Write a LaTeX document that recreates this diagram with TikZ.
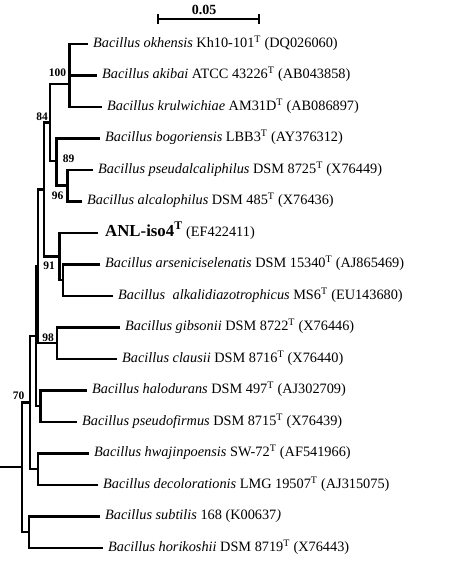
\documentclass[tikz,border=0pt]{standalone}
\usepackage{fontspec}
\setmainfont{Liberation Serif}
\newcommand{\Bac}[1]{\textit{Bacillus #1}}
\newcommand{\Ty}{\textsuperscript{T}}
\begin{document}
\begin{tikzpicture}[x=1pt,y=-1pt,
  br/.style={line width=2.7pt},
  leaf/.style={anchor=west, inner xsep=5pt, inner ysep=0pt, text height=9.5pt, text depth=3pt, font=\fontsize{14.3}{16}\selectfont},
  boot/.style={font=\fontsize{11.5}{13}\selectfont\bfseries, inner sep=0pt}]
\useasboundingbox (0,0) rectangle (474,562);
% scale bar
\coordinate (sb1) at (158,19);
\coordinate (sb2) at (259,19);
\draw[br] (sb1) -- (sb2);
\draw[br] ([yshift=-5pt]sb1) -- ([yshift=5pt]sb1);
\draw[br] ([yshift=-5pt]sb2) -- ([yshift=5pt]sb2);
\node[font=\fontsize{14}{16}\selectfont\bfseries, inner sep=0pt] (sbl) at (204,10) {0.05};
% leaves
\node[leaf] (t1) at (88,44) {\Bac{okhensis} Kh10-101\Ty{} (DQ026060)};
\node[leaf] (t2) at (97,75.5) {\Bac{akibai} ATCC 43226\Ty{} (AB043858)};
\node[leaf] (t3) at (102,107) {\Bac{krulwichiae} AM31D\Ty{} (AB086897)};
\node[leaf] (t4) at (100,138.5) {\Bac{bogoriensis} LBB3\Ty{} (AY376312)};
\node[leaf] (t5) at (93,170) {\Bac{pseudalcaliphilus} DSM 8725\Ty{} (X76449)};
\node[leaf] (t6) at (82,201.5) {\Bac{alcalophilus} DSM 485\Ty{} (X76436)};
\node[leaf, inner xsep=7pt] (t7) at (98,233) {{\fontsize{16.8}{18}\selectfont\bfseries ANL-iso4\Ty} (EF422411)};
\node[leaf] (t8) at (100,264.5) {\Bac{arseniciselenatis} DSM 15340\Ty{} (AJ865469)};
\node[leaf] (t9) at (113,296) {\textit{Bacillus\hspace{4pt} alkalidiazotrophicus} MS6\Ty{} (EU143680)};
\node[leaf] (t10) at (120,327.5) {\Bac{gibsonii} DSM 8722\Ty{} (X76446)};
\node[leaf] (t11) at (117,359) {\Bac{clausii} DSM 8716\Ty{} (X76440)};
\node[leaf] (t12) at (87,390.5) {\Bac{halodurans} DSM 497\Ty{} (AJ302709)};
\node[leaf] (t13) at (77,422) {\Bac{pseudofirmus} DSM 8715\Ty{} (X76439)};
\node[leaf] (t14) at (89,453.5) {\Bac{hwajinpoensis} SW-72\Ty{} (AF541966)};
\node[leaf] (t15) at (98,485) {\Bac{decolorationis} LMG 19507\Ty{} (AJ315075)};
\node[leaf] (t16) at (100,516.5) {\Bac{subtilis} 168 (K00637\textit{)}};
\node[leaf] (t17) at (103,548) {\Bac{horikoshii} DSM 8719\Ty{} (X76443)};
% internal nodes
\coordinate (A) at (69.5,84);
\coordinate (C) at (67.5,185.5);
\coordinate (B) at (56.5,161);
\coordinate (N84) at (50,122.5);
\coordinate (D) at (63,280);
\coordinate (N91) at (59.5,256.5);
\coordinate (Na) at (44,189.5);
\coordinate (N98) at (57,343);
\coordinate (R) at (38,266);
\coordinate (E) at (40.5,406);
\coordinate (Q) at (36,336);
\coordinate (F) at (38,469);
\coordinate (P) at (30,402.5);
\coordinate (G) at (29,532);
\coordinate (N70) at (22,467);
\coordinate (root) at (0,467);
% branches
\draw[br] (t1.west) -| (A);
\draw[br] (t2.west) -| (A);
\draw[br] (t3.west) -| (A);
\draw[br] (t5.west) -| (C);
\draw[br] (t6.west) -| (C);
\draw[br] (t4.west) -| (B);
\draw[br] (C) -| (B);
\draw[br] (A) -| (N84);
\draw[br] (B) -| (N84);
\draw[br] (t8.west) -| (D);
\draw[br] (t9.west) -| (D);
\draw[br] (t7.west) -| (N91);
\draw[br] (D) -| (N91);
\draw[br] (N84) -| (Na);
\draw[br] (N91) -| (Na);
\draw[br] (t10.west) -| (N98);
\draw[br] (t11.west) -| (N98);
\draw[br] (Na) -| (R);
\draw[br] (N98) -| (R);
\draw[br] (t12.west) -| (E);
\draw[br] (t13.west) -| (E);
\draw[br] (R) -| (Q);
\draw[br] (E) -| (Q);
\draw[br] (t14.west) -| (F);
\draw[br] (t15.west) -| (F);
\draw[br] (Q) -| (P);
\draw[br] (F) -| (P);
\draw[br] (t16.west) -| (G);
\draw[br] (t17.west) -| (G);
\draw[br] (P) -| (N70);
\draw[br] (G) -| (N70);
\draw[br] (N70) -- (root);
% bootstrap values
\node[boot] (b100) at (57.5,73) {100};
\node[boot] (b84) at (42,117) {84};
\node[boot] (b89) at (68.5,159) {89};
\node[boot] (b96) at (57.5,196) {96};
\node[boot] (b91) at (49,266) {91};
\node[boot] (b98) at (48,338) {98};
\node[boot] (b70) at (18.5,396) {70};
\end{tikzpicture}
\end{document}
